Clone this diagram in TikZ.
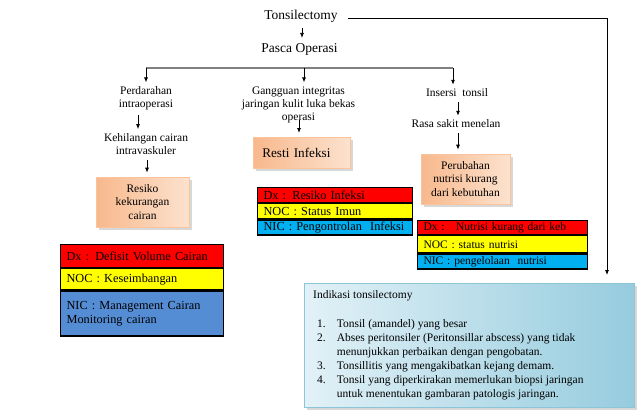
\documentclass[tikz,border=0pt]{standalone}
\usepackage{fontspec}
\setmainfont{Liberation Serif}
\usetikzlibrary{arrows.meta,shadows}
\def\bigtxt{\fontsize{13.5}{15}\selectfont}
\def\midtxt{\fontsize{12.3}{14}\selectfont}
\def\smalltxt{\fontsize{11.5}{13.3}\selectfont}
\definecolor{dxred}{RGB}{255,0,0}
\definecolor{nocyellow}{RGB}{255,255,0}
\definecolor{niccyan}{RGB}{0,176,240}
\definecolor{nicblue}{RGB}{84,141,212}
\definecolor{boxorange}{RGB}{248,184,140}
\definecolor{boxpeach}{RGB}{252,226,206}
\definecolor{infolight}{RGB}{226,241,247}
\definecolor{infodark}{RGB}{150,204,222}
\definecolor{infoedge}{RGB}{140,196,216}
\definecolor{bargray}{RGB}{128,128,128}
\tikzset{
	flow/.style={line width=0.8pt, -{Latex[length=5pt,width=4pt]}},
	txt/.style={inner sep=0pt, align=center, font=\smalltxt},
	orangebox/.style={draw=boxorange!85, line width=0.6pt, left color=boxorange, right color=boxpeach,
		drop shadow={shadow xshift=2.5pt, shadow yshift=-2.5pt, fill=black!30}, font=\smalltxt, align=center, inner sep=0pt},
	infobox/.style={draw=infoedge, line width=0.8pt, left color=infolight, right color=infodark,
		drop shadow={shadow xshift=2.5pt, shadow yshift=-2.5pt, fill=black!30}, inner sep=0pt},
	tblrow/.style={draw=black, line width=1.2pt, inner xsep=6pt, inner ysep=0pt, align=left, anchor=north west, font=\midtxt},
}
\begin{document}
\begin{tikzpicture}[x=1pt, y=-1pt]
		%%%%% START %%%%%
		\useasboundingbox (0,0) rectangle (643,416);
		
		\node[txt, font=\bigtxt] (tons) at (301,16) {Tonsilectomy};
		\node[txt, font=\bigtxt] (pasca) at (299.5,49) {Pasca Operasi};
		\draw[flow] ([xshift=1pt,yshift=-6pt]tons.south) -- ([xshift=2.5pt,yshift=5pt]pasca.north);
		
		\coordinate (barL) at (146,68);
		\coordinate (barM) at (304,68);
		\coordinate (barR) at (453,68);
		\draw[line width=1.6pt, color=bargray] (barL) -- (barR);
		
		% left branch
		\node[txt] (perd) at (146,98.5) {Perdarahan\\intraoperasi};
		\node[txt] (kehil) at (146,144) {Kehilangan cairan\\intravaskuler};
		\node[orangebox, minimum width=93pt, minimum height=50pt] (resiko) at (142.5,202) {Resiko\\kekurangan\\cairan};
		\draw[flow] (barL) -- ([yshift=4pt]perd.north);
		\draw[flow] ([xshift=-8pt,yshift=-4pt]perd.south) -- ([xshift=-8pt,yshift=4pt]kehil.north);
		\draw[flow] ([xshift=1pt,yshift=-5pt]kehil.south) -- ([xshift=4.5pt,yshift=4pt]resiko.north);
		
		\node[tblrow, fill=dxred, text width=151pt, minimum height=23pt] (dxL) at (60,244) {Dx : Defisit Volume Cairan};
		\node[tblrow, fill=nocyellow, text width=151pt, minimum height=21pt] (nocL) at (dxL.south west) {NOC : Keseimbangan};
		\node[tblrow, fill=nicblue, text width=151pt, minimum height=45pt] (nicL) at (nocL.south west) {NIC : Management Cairan\\Monitoring cairan\\[8pt]};
		
		% middle branch
		\node[txt] (gang) at (298.5,105) {Gangguan integritas\\jaringan kulit luka bekas\\operasi};
		\node[orangebox, font=\fontsize{13.2}{15}\selectfont, align=left, text width=79pt, inner xsep=9pt, minimum height=31pt, anchor=north west] (resti) at (253,137) {Resti Infeksi};
		\draw[flow] (barM) -- ([xshift=5.5pt,yshift=4pt]gang.north);
		\draw[flow] ([xshift=0.5pt,yshift=4pt]gang.south) -- ([xshift=0.5pt,yshift=4pt]gang.south |- resti.north);
		
		\node[tblrow, fill=dxred, text width=143pt, minimum height=15pt] (dxM) at (257,187) {Dx : Resiko Infeksi};
		\node[tblrow, fill=nocyellow, text width=143pt, minimum height=15pt] (nocM) at (dxM.south west) {NOC : Status Imun};
		\node[tblrow, fill=niccyan, text width=143pt, minimum height=15pt] (nicM) at (nocM.south west) {NIC : Pengontrolan\ \ Infeksi};
		
		% right branch
		\node[txt] (ins) at (457,93) {Insersi\ \ tonsil};
		\node[txt] (rasa) at (456,124) {Rasa sakit menelan};
		\node[orangebox, minimum width=89pt, minimum height=50pt] (perub) at (465.5,179) {Perubahan\\nutrisi kurang\\dari kebutuhan};
		\draw[flow] (barR) -- ([xshift=-4pt,yshift=4pt]ins.north);
		\draw[flow] ([xshift=1pt,yshift=-5pt]ins.south) -- ([xshift=2pt,yshift=4pt]rasa.north);
		\draw[flow] ([xshift=2pt,yshift=-5pt]rasa.south) -- ([xshift=-7.5pt,yshift=4pt]perub.north);
		
		\node[tblrow, fill=dxred, font=\smalltxt, text width=158pt, minimum height=14pt] (dxR) at (417,220) {Dx :\ \ \ Nutrisi kurang dari keb};
		\node[tblrow, fill=nocyellow, font=\smalltxt, text width=158pt, minimum height=17pt] (nocR) at (dxR.south west) {NOC : status nutrisi};
		\node[tblrow, fill=niccyan, font=\smalltxt, text width=158pt, minimum height=15pt] (nicR) at (nocR.south west) {NIC : pengelolaan\ \ nutrisi};
		
		% indikasi
		\node[infobox, minimum width=330pt, minimum height=124pt, anchor=north west] (indikasi) at (304,283) {};
		\coordinate (indarrow) at (607,275);
		\draw[flow] ([xshift=10pt,yshift=-2pt]tons.east) -| (indarrow);
		\node[txt, anchor=north west] (indtitle) at ([xshift=9pt,yshift=-7pt]indikasi.north west) {Indikasi tonsilectomy};
		\node[txt, anchor=north west, font=\fontsize{11.5}{14}\selectfont] (indlist) at ([xshift=13pt,yshift=-34pt]indikasi.north west) {%
			\begin{tabular}{@{}r@{\hspace{11pt}}l@{}}
				1. & Tonsil (amandel)\ yang besar\\
				2. & Abses peritonsiler\ (Peritonsillar\ abscess) yang tidak\\
				 & menunjukkan\ perbaikan dengan pengobatan.\\
				3. & Tonsillitis\ yang mengakibatkan\ kejang demam.\\
				4. & Tonsil yang diperkirakan\ memerlukan\ biopsi jaringan\\
				 & untuk menentukan\ gambaran patologis\ jaringan.
			\end{tabular}};
		
		%%%%% END %%%%%
	\end{tikzpicture}
\end{document}
